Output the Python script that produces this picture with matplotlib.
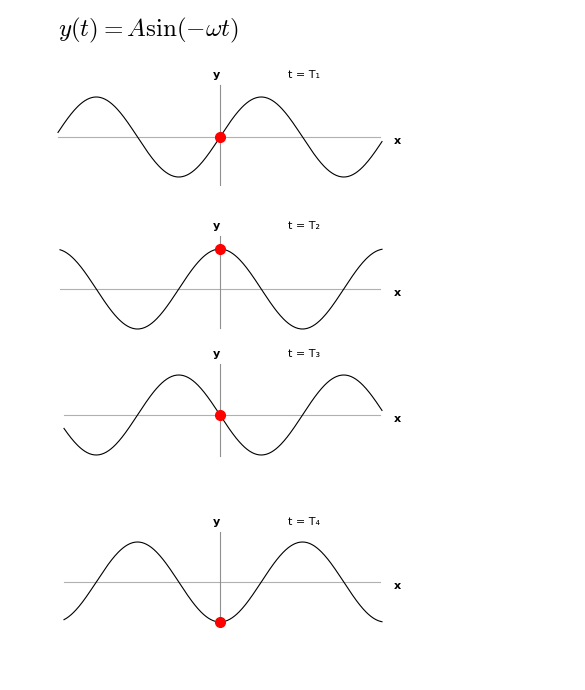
import numpy as np
import matplotlib.pyplot as plt

plt.rcParams["mathtext.fontset"] = "cm"

# panel layout (pixel space of the figure)
baselines = [137, 289, 415, 582]
phases = [0.0, np.pi / 2, np.pi, -np.pi / 2]
labels = ["t = T\u2081", "t = T\u2082", "t = T\u2083", "t = T\u2084"]
yaxis_spans = [(85, 185), (236, 328), (364, 456), (532, 624)]
x_starts = [58, 60, 64, 64]
amp = 40
period = 165
x0 = 220

fig = plt.figure(figsize=(5.85, 6.9), dpi=100)
ax = fig.add_axes([0, 0, 1, 1])
ax.set_xlim(0, 585)
ax.set_ylim(690, 0)
ax.axis("off")

ax.text(58, 30, r"$y(t) = A\sin(-\omega t)$", fontsize=18, va="center", ha="left")

for yb, ph, lab, (ya, yb2), xs in zip(baselines, phases, labels, yaxis_spans, x_starts):
    ax.plot([xs, 380], [yb, yb], color="#b0b0b0", lw=0.8)
    ax.plot([x0, x0], [ya, yb2], color="#909090", lw=0.8)
    xx = np.linspace(xs, 382, 400)
    yy = yb - amp * np.sin(2 * np.pi * (xx - x0) / period + ph)
    ax.plot(xx, yy, color="black", lw=0.8)
    ax.plot(x0, yb - amp * np.sin(ph), "o", color="red", ms=7, zorder=5)
    ax.text(216, ya - 10, "y", fontsize=8, ha="center", va="center", fontweight="bold")
    ax.text(304, ya - 10, lab, fontsize=8, ha="center", va="center")
    ax.text(397, yb + 4, "x", fontsize=8, ha="center", va="center", fontweight="bold")

fig.savefig("out.png", dpi=100)
